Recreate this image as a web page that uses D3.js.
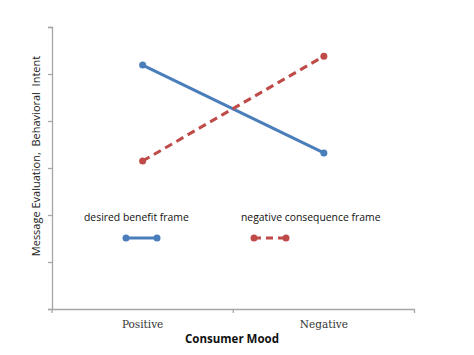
<!DOCTYPE html>
<html>
<head>
<meta charset="utf-8">
<script src="https://cdn.jsdelivr.net/npm/d3@7"></script>
<style>
  body { margin: 0; background: #fff; }
  svg { display: block; }
</style>
</head>
<body>
<div class="container"></div>
<script>
// Data
const moods = ['Positive', 'Negative']
const benefitValues = [5.19, 3.32]
const consequenceValues = [3.15, 5.38]
const yTicks = [0, 1, 2, 3, 4, 5, 6]

const width = 474
const height = 355
const margin = {"top": 27, "right": 60, "bottom": 46, "left": 52}

const svg = d3.select(".container")
    .append("svg")
    .attr("width", width)
    .attr("height", height)

const x = d3.scaleBand()
    .domain(moods)
    .range([margin.left, width - margin.right + 0.5])

const y = d3.scaleLinear()
    .domain([0, 6])
    .range([height - margin.bottom, margin.top])

const axisColor = '#a6a6a6'

// y axis
const yAxis = svg.append('g')
    .attr('transform', `translate(${margin.left}, 0)`)
    .call(d3.axisLeft(y).tickValues(yTicks).tickSize(4).tickFormat(''))
yAxis.selectAll('line, path').attr('stroke', axisColor).attr('stroke-width', 1.3)

// x axis, ticks between categories
const xAxis = svg.append('g')
    .attr('transform', `translate(0, ${y(0)})`)
    .call(d3.axisBottom(x).tickSize(0).tickFormat(''))
xAxis.select('path').attr('stroke', axisColor).attr('stroke-width', 1.3)
xAxis.selectAll('.tick').remove()

const bounds = [x.range()[0], x.range()[0] + x.bandwidth(), x.range()[1]]
svg.selectAll('.xtick')
    .data(bounds)
    .enter()
    .append('line')
    .attr('class', 'xtick')
    .attr('x1', d => d).attr('x2', d => d)
    .attr('y1', y(0)).attr('y2', y(0) + 4)
    .attr('stroke', axisColor)
    .attr('stroke-width', 1.3)

svg.selectAll('.xlabel')
    .data(moods)
    .enter()
    .append('text')
    .attr('x', d => x(d) + x.bandwidth() / 2)
    .attr('y', 328)
    .attr('text-anchor', 'middle')
    .style('font-family', '"DejaVu Serif", "Liberation Serif", serif')
    .style('font-size', '10.5px')
    .style('fill', '#333')
    .text(d => d)

svg.append('text')
    .attr('x', 232)
    .attr('y', 343)
    .attr('text-anchor', 'middle')
    .style('font-family', '"Open Sans", "Noto Sans", sans-serif')
    .style('font-weight', 'bold')
    .style('font-size', '11.5px')
    .style('fill', '#111')
    .text('Consumer Mood')

svg.append('text')
    .attr('transform', 'translate(40, 156) rotate(-90)')
    .attr('text-anchor', 'middle')
    .style('font-family', '"Open Sans", "Noto Sans", sans-serif')
    .style('font-size', '11px')
    .style('fill', '#222')
    .style('white-space', 'pre')
    .text('Message Evaluation,  Behavioral  Intent')

const series = [
    {name: 'desired benefit frame', values: benefitValues, color: '#4a7ebb', dash: null},
    {name: 'negative consequence frame', values: consequenceValues, color: '#be4b48', dash: '8,5'}
]

const line = d3.line()
    .x((d, i) => x(moods[i]) + x.bandwidth() / 2)
    .y(d => y(d))

series.forEach(s => {
    svg.append('path')
        .datum(s.values)
        .attr('d', line)
        .attr('fill', 'none')
        .attr('stroke', s.color)
        .attr('stroke-width', 3)
        .attr('stroke-dasharray', s.dash)

    svg.selectAll(null)
        .data(s.values)
        .enter()
        .append('circle')
        .attr('cx', (d, i) => x(moods[i]) + x.bandwidth() / 2)
        .attr('cy', d => y(d))
        .attr('r', 3.5)
        .attr('fill', s.color)
})

// Legend
const legendItems = [
    {text: 84, x1: 126, x2: 157},
    {text: 241, x1: 254, x2: 286}
]
series.forEach((s, i) => {
    const L = legendItems[i]
    svg.append('text')
        .attr('x', L.text)
        .attr('y', 221)
        .style('font-family', '"Open Sans", "Noto Sans", sans-serif')
        .style('font-size', '10.4px')
        .style('fill', '#111')
        .text(s.name)
    svg.append('line')
        .attr('x1', L.x1).attr('x2', L.x2)
        .attr('y1', 238).attr('y2', 238)
        .attr('stroke', s.color)
        .attr('stroke-width', 3)
        .attr('stroke-dasharray', s.dash ? '7,5' : null)
    svg.selectAll(null)
        .data([L.x1, L.x2])
        .enter()
        .append('circle')
        .attr('cx', d => d)
        .attr('cy', 238)
        .attr('r', 3.5)
        .attr('fill', s.color)
})
</script>
</body>
</html>
